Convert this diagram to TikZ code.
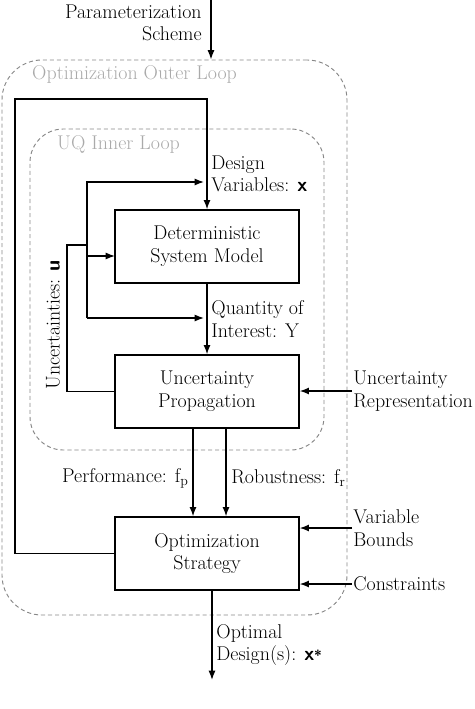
\documentclass[tikz,border=0pt]{standalone}
\usepackage{tikz}
\usetikzlibrary{arrows.meta,positioning}
\definecolor{loopline}{RGB}{135,135,135}
\definecolor{looptext}{RGB}{170,170,170}
\newcommand{\diagfont}{\fontsize{17}{19.3}\selectfont}
\newcommand{\vecx}{\textbf{\textsf{x}}}

\begin{document}
\begin{tikzpicture}[x=0.03cm,y=-0.03cm,>=Latex,font=\diagfont]
\tikzstyle{box}=[draw,line width=1.1pt,minimum width=5.52cm,minimum height=2.19cm,align=center,inner sep=2pt]
\tikzstyle{loop}=[draw=loopline,line width=0.8pt,dash pattern=on 3.5pt off 2.5pt,inner sep=0pt]
\tikzstyle{flow}=[line width=1.1pt]
\tikzstyle{lbl}=[align=left,inner sep=1pt]
\useasboundingbox (0,0) rectangle (474,709);
% loops
\node[loop,rounded corners=1.2cm,minimum width=10.35cm,minimum height=16.65cm] (outer) at (174.5,337.5) {};
\node[loop,rounded corners=1.0cm,minimum width=8.82cm,minimum height=9.63cm] (inner) at (177,289.5) {};
\node[anchor=west,text=looptext,inner sep=0pt] (outerlbl) at (32,74) {Optimization Outer Loop};
\node[anchor=west,text=looptext,inner sep=0pt] (innerlbl) at (57,144) {UQ Inner Loop};
% blocks
\node[box] (det) at (207,246.5) {Deterministic\\System Model};
\node[box] (prop) at (207,391.5) {Uncertainty\\Propagation};
\node[box] (opt) at (207,553.5) {Optimization\\Strategy};
% inputs / outputs
\node[lbl,align=right,anchor=east] (param) at (203,23) {Parameterization\\Scheme};
\coordinate (paramin) at (211,0);
\node[lbl,anchor=west] (urep) at (352,391) {Uncertainty\\Representation};
\node[lbl,anchor=west] (bounds) at (352,528) {Variable\\Bounds};
\node[lbl,anchor=west] (cons) at (352,584) {Constraints};
\coordinate (xout) at (212,680);
\node[lbl,anchor=west] (optlbl) at (215,645) {Optimal\\Design(s): \vecx{\fontsize{12}{12}\selectfont\textbf{\textsf{*}}}};
% signal labels
\node[lbl,anchor=west] (dvlbl) at (210,174) {Design\\Variables: \vecx};
\node[lbl,anchor=west] (qoilbl) at (210,319) {Quantity of\\Interest: Y};
\node[lbl,rotate=90] (ulbl) at (53,325) {Uncertainties: \textbf{\textsf{u}}};
\node[lbl,anchor=east] (perflbl) at (190,478) {Performance: f\textsubscript{p}};
\node[lbl,anchor=west] (roblbl) at (230,478) {Robustness: f\textsubscript{r}};
% bend points
\coordinate (fbtop) at (15,99);
\coordinate (ua) at (87,182);
\coordinate (ub) at (87,318);
\coordinate (ujoin) at (87,245);
\coordinate (uleft) at (67,245);
\coordinate (dvin) at (204,182);
\coordinate (qoiin) at (204,318);
\coordinate (detfrom) at (87,256);
\coordinate (detin) at (115,256);
% connectors
\draw[->,flow] (paramin) -- (outer.north -| paramin);
\draw[->,flow] (opt.west) -| (fbtop) -| (det.north);
\draw[->,flow] (ub) |- (dvin);
\draw[->,flow] (ub) -- (qoiin);
\draw[->,flow] (detfrom) -- (detin);
\draw[flow] (prop.west) -| (uleft) -- (ujoin);
\draw[->,flow] (det.south) -- (prop.north);
\draw[->,flow] ([xshift=-0.42cm]prop.south) -- ([xshift=-0.42cm]opt.north);
\draw[->,flow] ([xshift=0.57cm]prop.south) -- ([xshift=0.57cm]opt.north);
\draw[->,flow] (urep.west) -- (prop.east |- urep.west);
\draw[->,flow] (bounds.west) -- (opt.east |- bounds.west);
\draw[->,flow] (cons.west) -- (opt.east |- cons.west);
\draw[->,flow] (opt.south -| xout) -- (xout);
\end{tikzpicture}
\end{document}
